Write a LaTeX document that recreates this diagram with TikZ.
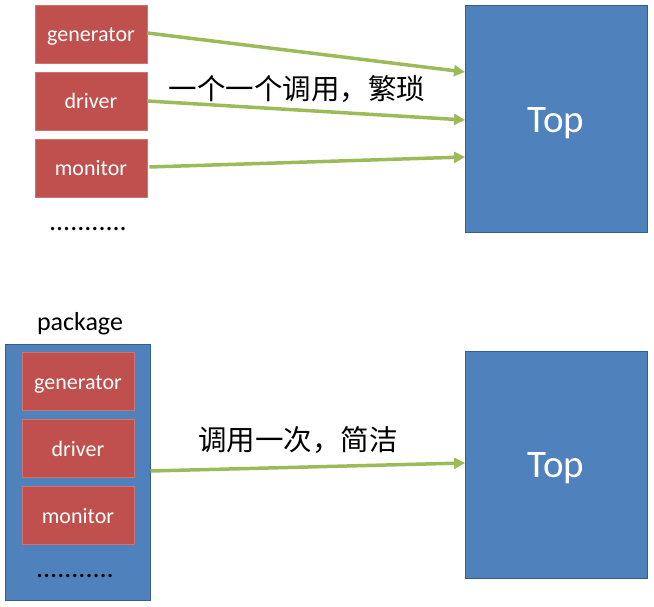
\documentclass[tikz,border=0pt]{standalone}
\usepackage{fontspec}
\setmainfont{Carlito}
\newfontfamily\cjk{Noto Sans CJK SC}
\usetikzlibrary{arrows.meta}
\definecolor{boxred}{HTML}{C0504D}
\definecolor{boxblue}{HTML}{4F81BD}
\definecolor{blueedge}{HTML}{385D8A}
\definecolor{arrgreen}{HTML}{9BBB59}
\begin{document}
\begin{tikzpicture}[x=1pt,y=-1pt,
  redbox/.style={draw=boxred!80!white,line width=0.8pt,fill=boxred,text=white,minimum width=112pt,minimum height=58pt,inner sep=0pt,font=\fontsize{22}{26}\selectfont,text height=20pt,text depth=4pt},
  topbox/.style={draw=blueedge,line width=1pt,fill=boxblue,text=white,minimum width=182pt,minimum height=227pt,inner sep=0pt,font=\fontsize{39}{44}\selectfont,text height=31pt,text depth=5pt},
  pkgbox/.style={draw=blueedge,line width=1pt,fill=boxblue,minimum width=145pt,minimum height=256pt,inner sep=0pt},
  callarrow/.style={draw=arrgreen,line width=3.5pt,-{Triangle[length=11pt,width=11pt]}},
  cjklabel/.style={font=\cjk\fontsize{28.5}{32}\selectfont,inner sep=0pt},
  dots/.style={font=\fontsize{28}{32}\selectfont,inner sep=0pt,anchor=base}]
\useasboundingbox (0,0) rectangle (654,607);
% top part
\node[redbox] (gen1) at (91,34) {generator};
\node[redbox] (drv1) at (91,101) {driver};
\node[redbox] (mon1) at (91,168) {monitor};
\node[dots] (dots1) at (88,231) {...........};
\node[topbox] (top1) at (556,119.5) {Top};
\coordinate (t1a) at (465,72);
\coordinate (t1b) at (465,120);
\coordinate (t1c) at (465,157);
\draw[callarrow] (gen1.east |- 0,33) -- (t1a);
\draw[callarrow] (drv1.east |- 0,101) -- (t1b);
\draw[callarrow] ([xshift=2pt]mon1.east |- 0,167) -- (t1c);
\node[cjklabel] (lab1) at (297,89) {一个一个调用，繁琐};
% bottom part
\node[font=\fontsize{26}{30}\selectfont,inner sep=0pt] (pkglabel) at (80,324) {package};
\node[pkgbox] (pkg) at (77.5,472) {};
\node[redbox] (gen2) at (78,381.5) {generator};
\node[redbox] (drv2) at (78,448.5) {driver};
\node[redbox] (mon2) at (78,515.5) {monitor};
\node[dots] (dots2) at (75,577) {...........};
\node[topbox] (top2) at (556,464.5) {Top};
\coordinate (t2a) at (465,463);
\draw[callarrow] (pkg.east |- 0,471) -- (t2a);
\node[cjklabel] (lab2) at (298,440) {调用一次，简洁};
\end{tikzpicture}
\end{document}
